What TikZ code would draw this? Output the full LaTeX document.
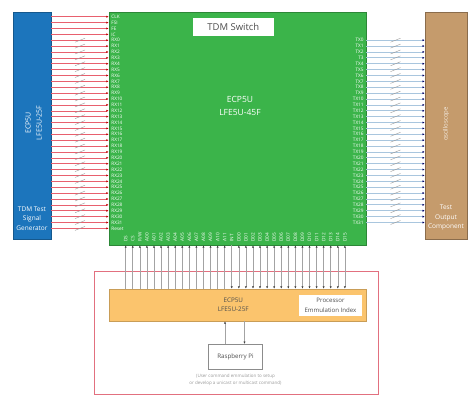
\documentclass[tikz,border=0pt]{standalone}
\usepackage{fontspec}
\setmainfont{Open Sans}
\usetikzlibrary{positioning,arrows.meta,calc}

\definecolor{genblue}{HTML}{1C75BC}
\definecolor{swgreen}{HTML}{3BB44A}
\definecolor{oscbrown}{HTML}{C59B6C}
\definecolor{fpgaorange}{HTML}{FBC46D}
\definecolor{hostred}{HTML}{E2707F}
\definecolor{rxred}{HTML}{E8606E}
\definecolor{txblue}{HTML}{A9C6DE}
\definecolor{busgray}{HTML}{A3A3A3}
\definecolor{textgray}{HTML}{4D4D4D}

\begin{document}
\begin{tikzpicture}[x=1pt, y=-1pt,
  box/.style={draw, inner sep=0pt, line width=0.6pt},
  pinlbl/.style={font=\fontsize{4.7}{5}\selectfont, text=white, inner sep=0.5pt},
  rxline/.style={draw=rxred, line width=0.5pt, -{Latex[length=2.4pt, width=2.2pt, color=red!75!black]}},
  txline/.style={draw=txblue, line width=0.8pt, -{Latex[length=2.2pt, width=2.2pt, color=blue!40!black]}},
  busup/.style={draw=busgray, line width=0.6pt, -{Latex[length=2.4pt, width=2.2pt, color=black!75]}},
  busboth/.style={draw=busgray, line width=0.6pt, {Latex[length=2.4pt, width=2.2pt, color=black!75]}-{Latex[length=2.4pt, width=2.2pt, color=black!75]}},
  slashmark/.style={draw=black!40, line width=0.4pt}]

  \useasboundingbox (0,0) rectangle (474,405);

  % Main blocks
  \node[box, fill=genblue, draw=genblue!75!black, minimum width=38pt, minimum height=227pt] (gen) at (32,125.5) {};
  \node[box, fill=swgreen, draw=swgreen!75!black, minimum width=257pt, minimum height=233pt] (sw) at (237.5,128.5) {};
  \node[box, fill=oscbrown, draw=oscbrown!70!black, minimum width=42pt, minimum height=227pt] (osc) at (446,125.5) {};
  \node[box, draw=hostred, minimum width=284pt, minimum height=123pt] (host) at (236,332.5) {};
  \node[box, fill=fpgaorange, draw=fpgaorange!80!black, minimum width=257pt, minimum height=32pt] (fpga) at (237.5,305) {};
  \node[box, fill=white, draw=black!45, minimum width=54pt, minimum height=25pt] (rpi) at (235.5,356.7) {};

  % Labels
  \node[fill=white, minimum width=81pt, minimum height=18pt, inner sep=0pt, text=textgray, font=\fontsize{9.5}{11}\selectfont] (title) at (233.3,26.7) {TDM Switch};
  \node[text=white, align=center, font=\fontsize{8.5}{12.5}\selectfont] (swname) at (240,106) {ECP5U\\LFE5U-45F};
  \node[text=white, align=center, rotate=90, font=\fontsize{7}{11}\selectfont] (genname) at (33.5,123) {ECP5U\\LFE5U-25F};
  \node[text=white, align=center, font=\fontsize{6.5}{9.3}\selectfont] (gentxt) at (32,218.7) {TDM Test\\Signal\\Generator};
  \node[text=white!85!oscbrown, rotate=90, font=\fontsize{6}{8}\selectfont] (oscname) at (446,124) {oscilloscope};
  \node[text=white, align=center, font=\fontsize{6.5}{9.2}\selectfont] (osctxt) at (446,217.5) {Test\\Output\\Component};
  \node[text=textgray, align=center, font=\fontsize{6.3}{8.6}\selectfont] (fpganame) at (233.3,305) {ECP5U\\LFE5U-25F};
  \node[fill=white, minimum width=62.5pt, minimum height=20.7pt, inner sep=0pt, text=textgray, align=center, font=\fontsize{6.1}{9.3}\selectfont] (pei) at (330.5,305.3) {Processor\\Emmulation Index};
  \node[text=textgray, font=\fontsize{6.2}{8}\selectfont] (rpiname) at (rpi) {Raspberry Pi};
  \node[below=1.5pt of rpi, text=black!40, align=center, font=\fontsize{4.5}{6.7}\selectfont] (note) {(User command emmulation to setup\\or develop a unicast or multicast command)};

  % Generator to switch
  \foreach \n in {0,...,36} {
    \pgfmathsetmacro\ry{16.7+5.88*\n}
    \pgfmathtruncatemacro\k{\n-4}
    \ifcase\n \def\pinname{CLK}\or \def\pinname{FSI}\or \def\pinname{FE}\or \def\pinname{IC}\else \def\pinname{RX\k}\fi
    \ifnum\n=36 \def\pinname{Reset}\fi
    \coordinate (gs\n) at (gen.east |- 0,\ry);
    \coordinate (ge\n) at (sw.west |- 0,\ry);
    \draw[rxline] (gs\n) -- (ge\n);
    \node[pinlbl, anchor=west, xshift=2pt] (in\n) at (ge\n) {\pinname};
    \ifnum\n>3 \draw[slashmark] ($(gs\n)!0.5!(ge\n)+(-5,2)$) -- ++(10,-4); \fi
  }

  % Switch to oscilloscope
  \foreach \k in {0,...,31} {
    \pgfmathsetmacro\ry{16.7+5.88*(\k+4)}
    \def\pinname{TX\k}\ifnum\k=3 \def\pinname{T3}\fi
    \coordinate (ts\k) at (sw.east |- 0,\ry);
    \coordinate (te\k) at (osc.west |- 0,\ry);
    \draw[txline] (ts\k) -- (te\k);
    \node[pinlbl, anchor=east, xshift=-2pt] (out\k) at (ts\k) {\pinname};
    \draw[slashmark] ($(ts\k)!0.5!(te\k)+(-5,2)$) -- ++(10,-4);
  }

  % Processor bus
  \foreach \pinname [count=\j from 0] in {DS,CS,R/W,A00,A01,A02,A03,A04,A05,A06,A07,A08,A09,A10,A11,INT,D00,D01,D02,D03,D04,D05,D06,D07,D08,D09,D10,D11,D12,D13,D14,D15} {
    \pgfmathsetmacro\bx{125.7+7.07*\j}
    \coordinate (bt\j) at (sw.south -| \bx,0);
    \coordinate (bb\j) at (fpga.north -| \bx,0);
    \node[pinlbl, rotate=90, anchor=west] (bus\j) at ([yshift=3pt]bt\j) {\pinname};
    \ifnum\j<15 \draw[busup] (bb\j) -- (bt\j); \fi
    \ifnum\j=15 \draw[busup] (bt\j) -- (bb\j); \fi
    \ifnum\j>15 \draw[busboth] (bb\j) -- (bt\j); \fi
  }

  % Raspberry Pi link
  \coordinate (pu) at ([xshift=-10.5pt]rpi.north);
  \coordinate (pd) at ([xshift=9pt]rpi.north);
  \draw[busup] (pu) -- (pu |- fpga.south);
  \draw[busup] (pd |- fpga.south) -- (pd);

\end{tikzpicture}
\end{document}
